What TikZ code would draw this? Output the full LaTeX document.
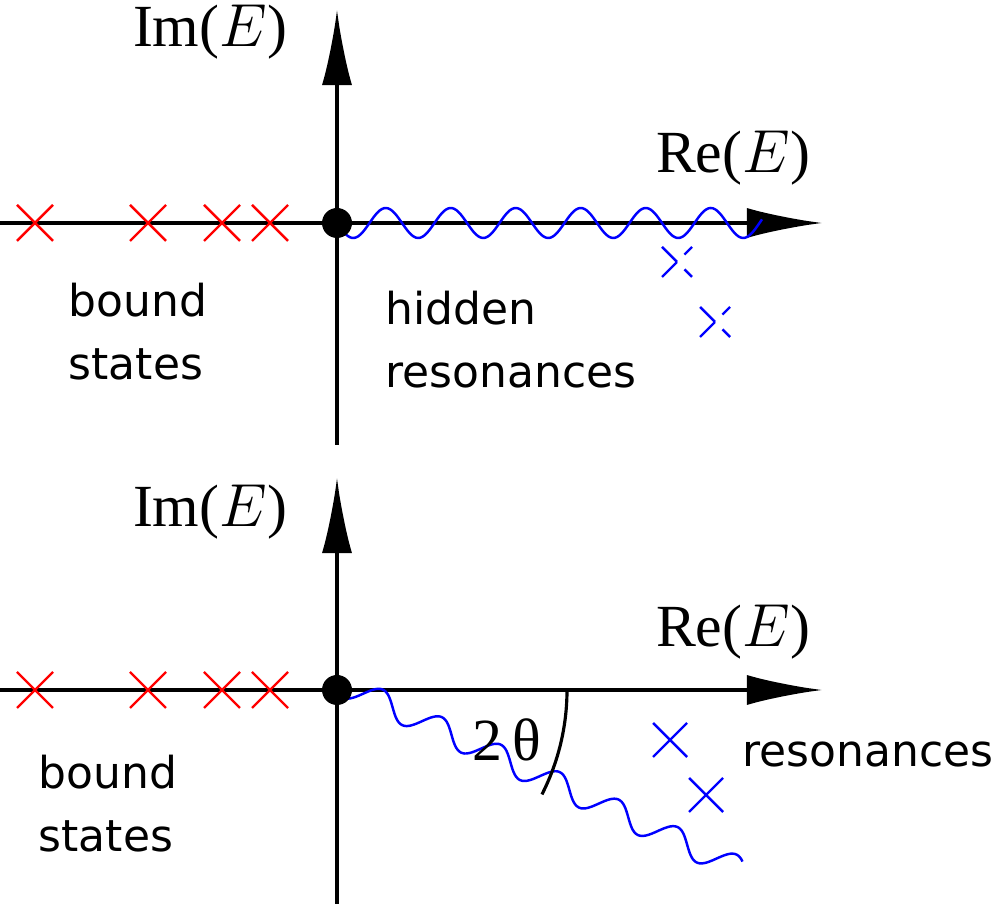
\documentclass[tikz,border=0pt]{standalone}
\usepackage{fontspec}
\setmainfont{Liberation Serif}
\setsansfont{DejaVu Sans}
\usetikzlibrary{arrows.meta}
\begin{document}
\begin{tikzpicture}[x=0.01cm,y=-0.01cm,
  ax/.style={line width=0.9pt,-{Latex[length=0.75cm,width=0.3cm]}},
  rx/.style={red,line width=0.7pt},
  bx/.style={blue,line width=0.7pt},
  wave/.style={blue,line width=0.7pt},
  lab/.style={font=\fontsize{17}{20}\selectfont},
  txt/.style={font=\sffamily\fontsize{12.5}{18}\selectfont,align=left,anchor=north west,inner sep=0pt}]
\useasboundingbox (0,0) rectangle (1000,904);
% top panel
\coordinate (o1) at (337,223);
\coordinate (xe1) at (822,223);
\coordinate (yb1) at (337,445);
\coordinate (ye1) at (337,10);
\draw[line width=0.9pt] (0,223) -- (o1);
\draw[ax] (o1) -- (xe1);
\draw[ax] (yb1) -- (ye1);
\foreach \x in {35,148,222,270}{\draw[rx] (\x-18,205) -- (\x+18,241) (\x-18,241) -- (\x+18,205);}
\draw[wave] plot[domain=0:425,samples=200,smooth] ({337+\x},{223+15*sin(\x/65*360)});
\fill (o1) circle (15);
\foreach \p in {(677,262),(715,322)}{\draw[bx,dashed,dash pattern=on 6pt off 3pt] \p ++(-15,-15) -- ++(30,30) \p ++(-15,15) -- ++(30,-30);}
\node[lab] (im1) at (210,32) {Im($E$)};
\node[lab] (re1) at (733,158) {Re($E$)};
\node[txt] (bs1) at (68,282) {bound\\states};
\node[txt] (hr) at (385,290) {hidden\\resonances};
% bottom panel
\coordinate (o2) at (337,690);
\coordinate (xe2) at (822,690);
\coordinate (yb2) at (337,904);
\coordinate (ye2) at (337,478);
\draw[line width=0.9pt] (0,690) -- (o2);
\draw[ax] (o2) -- (xe2);
\draw[ax] (yb2) -- (ye2);
\foreach \x in {35,148,222,270}{\draw[rx] (\x-18,672) -- (\x+18,708) (\x-18,708) -- (\x+18,672);}
\begin{scope}[shift={(o2)},rotate=-25]
\draw[wave] plot[domain=0:440,samples=220,smooth] ({\x},{12*sin(\x/65*360+40)-7.7});
\end{scope}
\fill (o2) circle (15);
\draw[line width=0.9pt] (567,690) arc[start angle=0,end angle=27,radius=230];
\node[lab] (th) at (507,740) {2\,θ};
\foreach \p in {(670,740),(706,795)}{\draw[bx] \p ++(-17,-17) -- ++(34,34) \p ++(-17,17) -- ++(34,-34);}
\node[lab] (re2) at (733,632) {Re($E$)};
\node[lab] (im2) at (210,512) {Im($E$)};
\node[txt] (bs2) at (38,754) {bound\\states};
\node[txt,anchor=west] (rs) at (742,755) {resonances};
\end{tikzpicture}
\end{document}
